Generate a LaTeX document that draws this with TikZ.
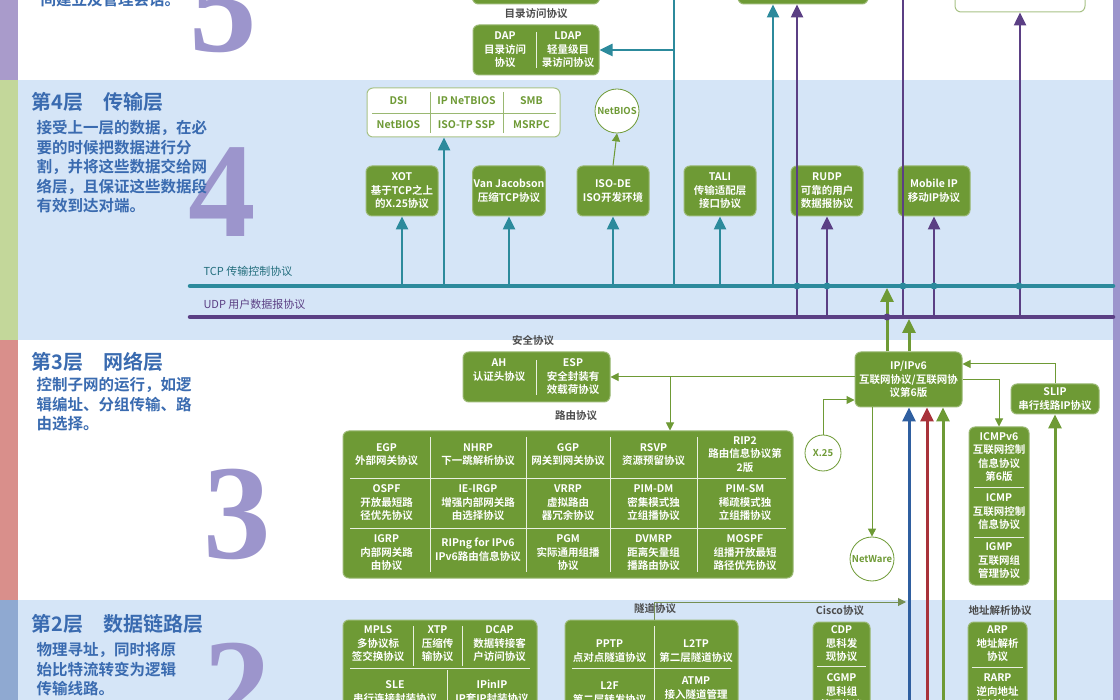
\documentclass[tikz,border=0pt]{standalone}
\usepackage{fontspec}
\setmainfont{Noto Sans CJK SC}[BoldFont={Noto Sans CJK SC Bold}]
\newfontfamily\digitfont{Liberation Serif}
\usetikzlibrary{arrows.meta,positioning,calc}

\definecolor{tcpc}{HTML}{2C8A9C}
\definecolor{udpc}{HTML}{5B3F84}
\definecolor{gfill}{HTML}{6E9A35}
\definecolor{titlec}{HTML}{3A6BB0}
\definecolor{bgc}{HTML}{D5E5F7}
\definecolor{digitc}{HTML}{9C95CC}
\definecolor{barv}{HTML}{A99BCB}
\definecolor{barg}{HTML}{C3D79A}
\definecolor{barr}{HTML}{D98F8B}
\definecolor{barb}{HTML}{8FA9D1}
\definecolor{ipblue}{HTML}{2F5FA0}
\definecolor{ipred}{HTML}{A8323A}

\tikzset{
	gbox/.style={rectangle, rounded corners=6pt, fill=gfill, draw=gfill!70!white,
	line width=1pt, text=white, font=\bfseries\fontsize{10.5}{13.5}\selectfont,
	align=center, inner sep=1pt},
	cellt/.style={text=white, font=\bfseries\fontsize{10.5}{13.5}\selectfont,
	align=center, inner sep=0pt},
	wcellt/.style={text=gfill, font=\bfseries\fontsize{10.5}{13}\selectfont, inner sep=0pt},
	ring/.style={circle, draw=gfill, fill=white, line width=0.8pt, text=gfill,
	font=\bfseries\fontsize{9.5}{10}\selectfont, inner sep=0pt},
	wtab/.style={rectangle, rounded corners=6pt, fill=white, draw=gfill!60!white, line width=1pt},
	div/.style={draw=white!85!gfill, line width=0.9pt},
	tarr/.style={line width=2.5pt, -{Triangle[length=13pt,width=12pt]}},
	barr3/.style={line width=3pt, -{Triangle[length=14pt,width=13pt]}},
	garr/.style={draw=gfill, line width=1pt, -{Triangle[length=8pt,width=8pt]}},
	lbl/.style={text=black!70, font=\bfseries\fontsize{10.5}{12}\selectfont},
	ltitle/.style={anchor=west, text=titlec, font=\bfseries\fontsize{20}{22}\selectfont},
	desc/.style={anchor=north west, text=titlec, font=\bfseries\fontsize{15.5}{19.5}\selectfont, align=left},
	bigdigit/.style={text=digitc, font=\digitfont\bfseries\fontsize{135}{135}\selectfont}
}

\begin{document}
\begin{tikzpicture}[x=1pt,y=-1pt]
		\useasboundingbox (0,0) rectangle (1120,700);
		
		% Bands
		\fill[white] (0,0) rectangle (1120,700);
		\fill[bgc] (18,80) rectangle (1113,340);
		\fill[bgc] (18,600) rectangle (1113,700);
		\fill[barv] (0,0) rectangle (18,80);
		\fill[barg] (0,80) rectangle (18,340);
		\fill[barr] (0,340) rectangle (18,600);
		\fill[barb] (0,600) rectangle (18,700);
		\fill[digitc] (1113,0) rectangle (1120,700);
		
		% Layer numbers
		\node[bigdigit] (d5) at (223,8) {5};
		\node[bigdigit] (d4) at (222,192) {4};
		\node[bigdigit] (d3) at (237,514) {3};
		\node[bigdigit] (d2) at (237,688) {2};
		
		% Layer texts
		\node[anchor=west, text=titlec, font=\bfseries\fontsize{15.5}{19.5}\selectfont]
		(t5) at (37,0) {间建立及管理会话。};
		\node[ltitle] (h4) at (28,102) {第4层\quad 传输层};
		\node[desc] (t4) at (33,117) {接受上一层的数据，在必\\要的时候把数据进行分\\割，并将这些数据交给网\\络层，且保证这些数据段\\有效到达对端。};
		\node[ltitle] (h3) at (28,362) {第3层\quad 网络层};
		\node[desc] (t3) at (33,374) {控制子网的运行，如逻\\辑编址、分组传输、路\\由选择。};
		\node[ltitle] (h2) at (28,624) {第2层\quad 数据链路层};
		\node[desc] (t2) at (33,639) {物理寻址，同时将原\\始比特流转变为逻辑\\传输线路。};
		
		% Layer 5 boxes
		\node[gbox, minimum width=127pt, minimum height=44pt] (s5a) at (536,-18) {};
		\node[gbox, minimum width=130pt, minimum height=44pt] (s5b) at (803,-18) {};
		\node[wtab, minimum width=130pt, minimum height=44pt] (s5w) at (1020,-10) {};
		\node[lbl] (l5dir) at (536,14) {目录访问协议};
		\node[gbox, minimum width=126pt, minimum height=50pt] (dap) at (536,50) {};
		\draw[div] (536,32) -- (536,68);
		\node[cellt] (dapt) at (505,50) {DAP\\目录访问\\协议};
		\node[cellt] (ldapt) at (568,50) {LDAP\\轻量级目\\录访问协议};
		
		% Transport lines
		\coordinate (tcpL) at (190,286);
		\coordinate (tcpR) at (1113,286);
		\coordinate (udpL) at (190,317);
		\coordinate (udpR) at (1113,317);
		\coordinate (top5) at (903,0);
		\coordinate (top5t) at (674,0);
		\node[anchor=west, text=tcpc!80!black, font=\fontsize{11}{12}\selectfont] (tcpt) at (200,271) {TCP 传输控制协议};
		\node[anchor=west, text=udpc, font=\fontsize{11}{12}\selectfont] (udpt) at (200,304) {UDP 用户数据报协议};
		
		% Layer 4 nodes
		\node[wtab, minimum width=193pt, minimum height=49pt] (wt) at (463.5,112.5) {};
		\draw[gfill!70!white, line width=0.8pt] (430,92) -- (430,133) (503,92) -- (503,133) (372,113) -- (556,113);
		\node[wcellt] (c1) at (398.5,101) {DSI};
		\node[wcellt] (c2) at (466.5,101) {IP NeTBIOS};
		\node[wcellt] (c3) at (531.5,101) {SMB};
		\node[wcellt] (c4) at (398.5,125) {NetBIOS};
		\node[wcellt] (c5) at (466.5,125) {ISO-TP SSP};
		\node[wcellt] (c6) at (531.5,125) {MSRPC};
		\node[ring, minimum size=44pt] (nb) at (617,111) {NetBIOS};
		
		\node[gbox, minimum width=72pt, minimum height=50pt] (xot) at (402,191) {XOT\\基于TCP之上\\的X.25协议};
		\node[gbox, minimum width=72pt, minimum height=50pt] (vj) at (509,191) {Van Jacobson\\压缩TCP协议};
		\node[gbox, minimum width=72pt, minimum height=50pt] (isode) at (613,191) {ISO-DE\\ISO开发环境};
		\node[gbox, minimum width=72pt, minimum height=50pt] (tali) at (720,191) {TALI\\传输适配层\\接口协议};
		\node[gbox, minimum width=72pt, minimum height=50pt] (rudp) at (827,191) {RUDP\\可靠的用户\\数据报协议};
		\node[gbox, minimum width=72pt, minimum height=50pt] (mip) at (934,191) {Mobile IP\\移动IP协议};
		
		% Layer 3 nodes
		\node[lbl] (lsec) at (533,341) {安全协议};
		\node[gbox, minimum width=147pt, minimum height=50pt] (sec) at (536.5,377) {};
		\draw[div] (536,360) -- (536,395);
		\node[cellt] (aht) at (499,370) {AH\\认证头协议};
		\node[cellt] (espt) at (573,377) {ESP\\安全封装有\\效载荷协议};
		\node[lbl] (lroute) at (576,416) {路由协议};
		\node[gbox, minimum width=450pt, minimum height=147pt] (route) at (568,504.5) {};
		\draw[div] (430,437) -- (430,572) (526,437) -- (526,572) (610,437) -- (610,572) (697,437) -- (697,572)
		(350,478) -- (786,478) (350,528) -- (786,528);
		\foreach \cx/\cy/\txt in {
			386.5/454.5/{EGP\\外部网关协议}, 478/454.5/{NHRP\\下一跳解析协议},
			568/454.5/{GGP\\网关到网关协议}, 653.5/454.5/{RSVP\\资源预留协议},
			745/454.5/{RIP2\\路由信息协议第\\2版},
			386.5/503/{OSPF\\开放最短路\\径优先协议}, 478/503/{IE-IRGP\\增强内部网关路\\由选择协议},
			568/503/{VRRP\\虚拟路由\\器冗余协议}, 653.5/503/{PIM-DM\\密集模式独\\立组播协议},
			745/503/{PIM-SM\\稀疏模式独\\立组播协议},
			386.5/553/{IGRP\\内部网关路\\由协议}, 478/550/{RIPng for IPv6\\IPv6路由信息协议},
			568/553/{PGM\\实际通用组播\\协议}, 653.5/553/{DVMRP\\距离矢量组\\播路由协议},
			745/553/{MOSPF\\组播开放最短\\路径优先协议}}
		\node[cellt] at (\cx,\cy) {\txt};
		
		\node[gbox, minimum width=107pt, minimum height=55pt] (ip) at (908.5,379.5) {IP/IPv6\\互联网协议/互联网协\\议第6版};
		\node[ring, minimum size=36pt] (x25) at (823,453) {X.25};
		\node[ring, minimum size=44pt] (nw) at (872,559) {NetWare};
		\node[gbox, minimum width=60pt, minimum height=158pt] (icmp) at (999,506) {};
		\draw[div] (974,487) -- (1024,487) (974,537) -- (1024,537);
		\node[cellt] (icmp6t) at (999,457) {ICMPv6\\互联网控制\\信息协议\\第6版};
		\node[cellt] (icmpt) at (999,512) {ICMP\\互联网控制\\信息协议};
		\node[cellt] (igmpt) at (999,561) {IGMP\\互联网组\\管理协议};
		\node[gbox, minimum width=88pt, minimum height=30pt] (slip) at (1055,399) {SLIP\\串行线路IP协议};
		
		% Layer 2 nodes
		\node[lbl] (ltun) at (655,609) {隧道协议};
		\node[lbl] (lcisco) at (840,611) {Cisco协议};
		\node[lbl] (larp) at (1000,611) {地址解析协议};
		\node[gbox, minimum width=194pt, minimum height=92pt] (mpls) at (440,666) {};
		\draw[div] (413,626) -- (413,666) (462,626) -- (462,666) (350,668) -- (530,668) (447,670) -- (447,710);
		\node[cellt] (mplst) at (378,644) {MPLS\\多协议标\\签交换协议};
		\node[cellt] (xtpt) at (437.5,644) {XTP\\压缩传\\输协议};
		\node[cellt] (dcapt) at (499.5,644) {DCAP\\数据转接客\\户访问协议};
		\node[cellt] (slet) at (395,692) {SLE\\串行连接封装协议};
		\node[cellt] (ipipt) at (492,692) {IPinIP\\IP套IP封装协议};
		\node[gbox, minimum width=173pt, minimum height=92pt] (tun) at (651.5,666) {};
		\draw[div] (654,626) -- (654,710) (572,668) -- (731,668);
		\node[cellt] (pptpt) at (609.5,651) {PPTP\\点对点隧道协议};
		\node[cellt] (l2tpt) at (696,651) {L2TP\\第二层隧道协议};
		\node[cellt] (l2ft) at (609.5,693) {L2F\\第二层转发协议};
		\node[cellt] (atmpt) at (696,695) {ATMP\\接入隧道管理\\协议};
		\node[gbox, minimum width=57pt, minimum height=92pt] (cisco) at (841.5,668) {};
		\draw[div] (817,666) -- (866,666);
		\node[cellt] (cdpt) at (841.5,644) {CDP\\思科发\\现协议};
		\node[cellt] (cgmpt) at (841.5,692) {CGMP\\思科组\\管理协议};
		\node[gbox, minimum width=59pt, minimum height=92pt] (arp) at (997.5,668) {};
		\draw[div] (972,667) -- (1023,667);
		\node[cellt] (arpt) at (997.5,644) {ARP\\地址解析\\协议};
		\node[cellt] (rarpt) at (997.5,692) {RARP\\逆向地址\\解析协议};
		
		% Layer 5 connectors
		\draw[tcpc, line width=2.5pt] (top5t) -- (top5t |- tcpL);
		\draw[tcpc, tarr] (top5t |- dap.east) -- (dap.east);
		\draw[tcpc, tarr] ([xshift=-30pt]s5b.south |- tcpL) -- ([xshift=-30pt]s5b.south);
		\draw[udpc, tarr] ([xshift=-6pt]s5b.south |- udpL) -- ([xshift=-6pt]s5b.south);
		\draw[udpc, line width=2.5pt] (top5 |- udpL) -- (top5);
		\draw[udpc, tarr] (s5w.south |- udpL) -- (s5w.south);
		
		% Layer 4 connectors
		\draw[tcpc, tarr] (xot.south |- tcpL) -- (xot.south);
		\draw[tcpc, tarr] ([xshift=-19.5pt]wt.south |- tcpL) -- ([xshift=-19.5pt]wt.south);
		\draw[tcpc, tarr] (vj.south |- tcpL) -- (vj.south);
		\draw[tcpc, tarr] (isode.south |- tcpL) -- (isode.south);
		\draw[tcpc, tarr] (tali.south |- tcpL) -- (tali.south);
		\draw[udpc, tarr] (rudp.south |- udpL) -- (rudp.south);
		\draw[udpc, tarr] (mip.south |- udpL) -- (mip.south);
		\draw[garr] (isode.north) -- (nb.south);
		
		% IP to transport
		\draw[gfill, barr3] ([xshift=-21.5pt]ip.north) -- ([xshift=-21.5pt,yshift=-2pt]ip.north |- tcpL);
		\draw[gfill, barr3] ([xshift=0.5pt]ip.north) -- ([xshift=0.5pt,yshift=-2pt]ip.north |- udpL);
		
		% TCP and UDP lines
		\draw[tcpc, line width=4.5pt, line cap=round] (tcpL) -- (tcpR);
		\draw[udpc, line width=4.5pt, line cap=round] (udpL) -- (udpR);
		\foreach \hx in {797,827,903,934,1019}
		\fill[tcpc] (\hx,286) circle (3.5pt);
		\fill[udpc] (887,317) circle (3.5pt);
		
		% Layer 3 connectors
		\coordinate (secbr) at (670,377);
		\draw[garr] (ip.west |- secbr) -- (sec.east |- secbr);
		\draw[garr] (secbr) -- (secbr |- route.north);
		\draw[garr] (x25.north) |- ([yshift=-20.5pt]ip.west);
		\draw[garr] (nw |- ip.south) -- (nw.north);
		\draw[garr] (ip.east) -| (icmp.north);
		\draw[garr] (slip.north) |- ([yshift=15.5pt]ip.east);
		\draw[gfill, barr3] (slip.south |- 0,700) -- (slip.south);
		\draw[ipblue, barr3] ([xshift=0.5pt]ip.south |- 0,700) -- ([xshift=0.5pt]ip.south);
		\draw[ipred, barr3] ([xshift=18.5pt]ip.south |- 0,700) -- ([xshift=18.5pt]ip.south);
		\draw[gfill, barr3] ([xshift=34.5pt]ip.south |- 0,700) -- ([xshift=34.5pt]ip.south);
		
		% Layer 2 connectors
		\coordinate (tunend) at (906,602);
		\draw[garr, draw=gfill!60!gray] ([xshift=2.5pt]tun.north) |- (tunend);
\end{tikzpicture}
\end{document}
